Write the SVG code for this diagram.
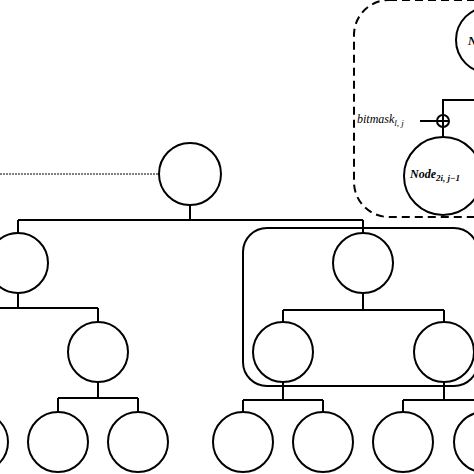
<svg xmlns="http://www.w3.org/2000/svg" width="474" height="474" viewBox="0 0 474 474">
<style>
.n{fill:#fff;stroke:#000;stroke-width:2}
.c{fill:none;stroke:#000;stroke-width:2}
.dot{fill:none;stroke:#000;stroke-width:1;stroke-dasharray:2 1}
.dash{fill:none;stroke:#000;stroke-width:2;stroke-dasharray:8 5}
.t{font-family:"Liberation Serif","DejaVu Serif",serif;font-style:italic;fill:#000}
</style>
<rect width="474" height="474" fill="#fff"/>
<g id="groups">
<rect id="dashed-box" class="dash" x="354" y="0" width="160" height="217" rx="35"/>
<rect id="solid-box" class="c" x="243" y="228" width="235" height="158" rx="24"/>
</g>
<g id="connectors">
<line class="dot" x1="0" y1="174" x2="160" y2="174"/>
<path class="c" d="M190 204V220M18 220H363M18 220V233M363 220V233"/>
<path class="c" d="M18 293V308M-62 308H98M98 308V322"/>
<path class="c" d="M98 382V398M58 398H138M58 398V412M138 398V412"/>
<path class="c" d="M363 293V310M283 310H444M283 310V322M444 310V322"/>
<path class="c" d="M283 382V400M243 400H323M243 400V412M323 400V412"/>
<path class="c" d="M444 382V400M403 400H484M403 400V412M484 400V412"/>
<path class="c" d="M443 137V100H480"/>
<line class="c" x1="420" y1="121" x2="443" y2="121"/>
<g id="xor">
<circle class="c" cx="443" cy="121" r="6"/>
<path class="c" d="M437 121H449M443 115V127"/>
</g>
</g>
<g id="root"><circle class="n" cx="190" cy="174" r="31"/></g>
<g id="n-left"><circle class="n" cx="18" cy="263" r="30"/></g>
<g id="n-left-r"><circle class="n" cx="98" cy="352" r="30"/></g>
<g id="n-ll"><circle class="n" cx="-22" cy="442" r="30"/></g>
<g id="n-lr1"><circle class="n" cx="58" cy="442" r="30"/></g>
<g id="n-lr2"><circle class="n" cx="138" cy="442" r="30"/></g>
<g id="n-right"><circle class="n" cx="363" cy="263" r="30"/></g>
<g id="n-rl"><circle class="n" cx="283" cy="352" r="30"/></g>
<g id="n-rr"><circle class="n" cx="444" cy="352" r="30"/></g>
<g id="n-rl1"><circle class="n" cx="243" cy="442" r="30"/></g>
<g id="n-rl2"><circle class="n" cx="323" cy="442" r="30"/></g>
<g id="n-rr1"><circle class="n" cx="403" cy="442" r="30"/></g>
<g id="n-rr2"><circle class="n" cx="484" cy="442" r="30"/></g>
<g id="n-top">
<circle class="n" cx="489" cy="40" r="33"/>
<text class="t" x="468" y="45" font-size="12" font-weight="bold">Node<tspan font-size="9" dy="3">i, j</tspan></text>
</g>
<g id="n-inset">
<circle class="n" cx="443" cy="176" r="39"/>
<text class="t" x="410" y="178" font-size="12" font-weight="bold">Node<tspan font-size="9" dy="3">2i, j−1</tspan></text>
</g>
<g id="bitmask">
<text class="t" x="357" y="123" font-size="12">bitmask<tspan font-size="9" dy="3">l, j</tspan></text>
</g>
</svg>
